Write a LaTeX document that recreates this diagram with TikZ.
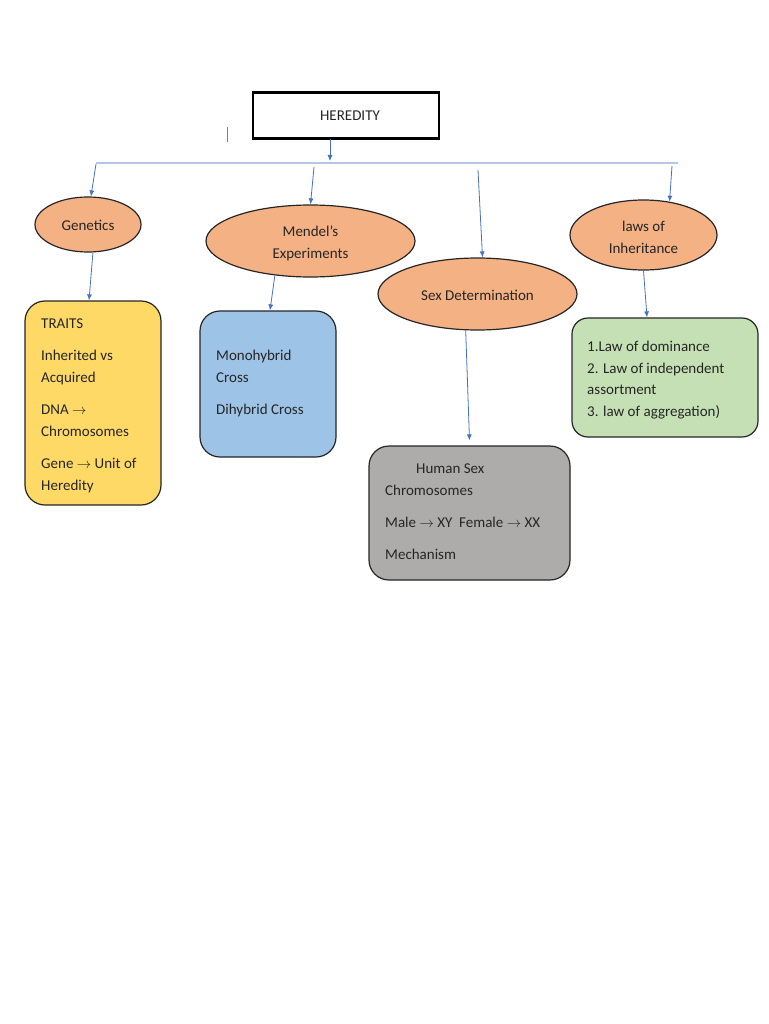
\documentclass[tikz,border=0pt]{standalone}
\usepackage{fontspec}
\setmainfont{Carlito}
\usetikzlibrary{arrows.meta,shapes.geometric}
\newcommand\myarr{\ensuremath{\rightarrow}}
\definecolor{ovalc}{HTML}{F4B183}
\definecolor{yelc}{HTML}{FFD966}
\definecolor{bluc}{HTML}{9DC3E6}
\definecolor{grayc}{HTML}{AEABAB}
\definecolor{grnc}{HTML}{C5E0B4}
\definecolor{arrc}{HTML}{4472C4}
\definecolor{barc}{HTML}{B4C7E7}
\definecolor{inkc}{HTML}{262626}
\begin{document}
\begin{tikzpicture}[x=1pt,y=-1pt,
  oval/.style={ellipse, draw=inkc, line width=1.2pt, fill=ovalc, inner sep=0pt},
  ovtxt/.style={inner sep=0pt, align=center, font=\fontsize{15}{22}\selectfont, text=inkc},
  card/.style={draw=inkc, line width=1.2pt, rounded corners=20pt},
  conn/.style={draw=arrc, line width=0.8pt, -{Latex[length=6pt,width=5pt]}},
  txt/.style={anchor=base west, inner sep=0pt, font=\fontsize{15}{22}\selectfont, text=inkc}
]
\useasboundingbox[fill=white] (0,0) rectangle (768,1024);

% title
\node[draw=black, line width=1.5pt, minimum width=186pt, minimum height=45pt, inner sep=0pt] (hered) at (346,115.5) {};
\draw[line width=2.6pt] (hered.north west) -- (hered.north east);
\draw[line width=2.6pt] (hered.south west) -- (hered.south east);
\node[ovtxt] (hdtxt) at (350,116) {HEREDITY};
\draw[gray, line width=1pt] (227,127) -- (227,142);

% bar
\coordinate (barl) at (96,163);
\coordinate (barr) at (678,163);
\coordinate (barm) at (330,161);
\draw[barc, line width=2pt] (barl) -- (barr);
\draw[conn] ([xshift=-16pt]hered.south) -- (barm);

% ovals
\node[oval, minimum width=106pt, minimum height=55pt] (gen) at (88,224.5) {};
\node[ovtxt] (gent) at (88,225) {Genetics};
\node[oval, minimum width=209pt, minimum height=72pt] (mend) at (310.5,241) {};
\node[ovtxt] (mendt) at (310.5,243) {Mendel's\\Experiments};
\node[oval, minimum width=199pt, minimum height=72pt] (sex) at (477.5,294) {};
\node[ovtxt] (sext) at (477.5,295) {Sex Determination};
\node[oval, minimum width=147pt, minimum height=70pt] (laws) at (643.5,235) {};
\node[ovtxt] (lawst) at (643.5,237) {laws of\\Inheritance};

% bar arrows
\coordinate (b1) at (96,164);
\coordinate (b2) at (314,167);
\coordinate (b3) at (478,170);
\coordinate (b4) at (672,166);
\draw[conn] (b1) -- (gen.84);
\draw[conn] (b2) -- (mend.north);
\draw[conn] (b3) -- ([xshift=5pt]sex.north);
\draw[conn] (b4) -- (laws.52);

% cards
\node[card, fill=yelc, minimum width=136pt, minimum height=204pt] (traits) at (93,403) {};
\node[card, fill=bluc, minimum width=136pt, minimum height=146pt] (cross) at (268,384) {};
\node[card, fill=grayc, minimum width=201pt, minimum height=134pt] (human) at (469.5,513) {};
\node[card, fill=grnc, minimum width=186pt, minimum height=119pt, rounded corners=16pt] (lawbox) at (665,377.5) {};

% oval to card arrows
\draw[conn] (gen.-80) -- ([xshift=-4pt]traits.north);
\draw[conn] (mend.-136) -- ([xshift=2pt]cross.north);
\draw[conn] (sex.-108) -- ([yshift=5pt]human.north);
\draw[conn] (laws.south) -- ([xshift=-18pt]lawbox.north);

% card texts
\node[txt] (t1) at (41,328) {TRAITS};
\node[txt] (t2) at (41,360) {Inherited vs};
\node[txt] (t3) at (41,382) {Acquired};
\node[txt] (t4) at (41,414) {DNA \myarr};
\node[txt] (t5) at (41,436) {Chromosomes};
\node[txt] (t6) at (41,468) {Gene \myarr{} Unit of};
\node[txt] (t7) at (41,490) {Heredity};

\node[txt] (c1) at (216,360) {Monohybrid};
\node[txt] (c2) at (216,382) {Cross};
\node[txt] (c3) at (216,414) {Dihybrid Cross};

\node[txt] (h1) at (416,473) {Human Sex};
\node[txt] (h2) at (385,495) {Chromosomes};
\node[txt] (h3) at (385,527) {Male \myarr{} XY\ \ Female \myarr{} XX};
\node[txt] (h4) at (385,559) {Mechanism};

\node[txt] (l1) at (587,351) {1.Law of dominance};
\node[txt] (l2) at (587,373) {2. Law of independent};
\node[txt] (l3) at (587,394) {assortment};
\node[txt] (l4) at (587,416) {3. law of aggregation)};
\end{tikzpicture}
\end{document}
